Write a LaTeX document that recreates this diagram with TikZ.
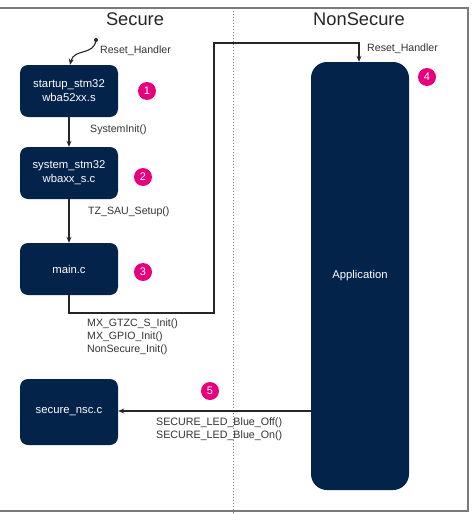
\documentclass[tikz,border=0pt]{standalone}
\usepackage{fontspec}
\setmainfont{Liberation Sans}
\usetikzlibrary{arrows.meta}
\definecolor{stnavy}{HTML}{03234B}
\definecolor{stpink}{HTML}{E6007E}
\definecolor{framegray}{HTML}{7A7A7A}
\tikzset{
  blk/.style={draw=none, fill=stnavy, rounded corners=8pt, text=white, align=center,
    minimum width=98pt, minimum height=52pt, inner sep=0pt, font=\fontsize{11.3}{13.8}\selectfont},
  badge/.style={circle, fill=stpink, text=white, minimum size=18pt, inner sep=0pt,
    font=\fontsize{11}{11}\selectfont},
  lbl/.style={align=left, inner sep=0pt, anchor=west, font=\fontsize{10.6}{12.8}\selectfont, text=black!80},
  conn/.style={line width=1.1pt, draw=black!85},
  arr/.style={conn, -{Stealth[length=6pt,width=5pt]}},
  title/.style={font=\fontsize{18.3}{20}\selectfont, text=black!85, inner sep=0pt}
}
\begin{document}
\begin{tikzpicture}[x=1pt,y=-1pt]
\useasboundingbox (0,0) rectangle (474,514);
\fill[white] (0,0) rectangle (474,514);
% frame
\draw[framegray, line width=1.5pt] (0,8) -- (468,8) -- (468,511) -- (0,511);
\draw[framegray, line width=1pt, dotted] (233,8) -- (233,514);
% titles
\node[title] (tsec) at (135,19) {Secure};
\node[title] (tnon) at (359,19) {NonSecure};
% boxes
\node[blk] (b1) at (69,91) {startup\_stm32\\wba52xx.s};
\node[blk] (b2) at (69,173) {system\_stm32\\wbaxx\_s.c};
\node[blk] (b3) at (69,269) {main.c};
\node[blk, minimum height=66pt] (b4) at (69,412) {secure\_nsc.c};
\node[blk, minimum width=98pt, minimum height=428pt, rounded corners=16pt] (app) at (360,276) {Application};
% badges
\node[badge] (n1) at (147,91) {1};
\node[badge] (n2) at (143,177) {2};
\node[badge] (n3) at (143,272) {3};
\node[badge] (n4) at (427,77) {4};
\node[badge] (n5) at (210,391) {5};
% reset curve
\coordinate (rs) at (96,40);
\fill[black!85] (rs) circle (2pt);
\draw[arr] (rs) .. controls (94,56) and (74,48) .. (b1.north -| 70,0);
\node[lbl] (lr1) at (100,51) {Reset\_Handler};
% chain
\draw[arr] (b1) -- (b2);
\node[lbl] (ls1) at (90,130) {SystemInit()};
\draw[arr] (b2) -- (b3);
\node[lbl] (ls2) at (88,212) {TZ\_SAU\_Setup()};
\coordinate (c1) at (69,313);
\coordinate (c2) at (214,313);
\coordinate (c3) at (214,43);
\coordinate (c4) at (359,43);
\draw[arr] (b3.south) -- (c1) -- (c2) -- (c3) -- (c4) -- (c4 |- app.north);
\node[lbl] (lr2) at (367,49) {Reset\_Handler};
\node[lbl] (lmx) at (87,337) {MX\_GTZC\_S\_Init()\\MX\_GPIO\_Init()\\NonSecure\_Init()};
% nsc call
\draw[arr] (app.west |- 0,411) -- (b4.east |- 0,411);
\node[lbl, font=\fontsize{10.7}{12.5}\selectfont] (lnsc) at (156,429) {SECURE\_LED\_Blue\_Off()\\SECURE\_LED\_Blue\_On()};
\end{tikzpicture}
\end{document}
